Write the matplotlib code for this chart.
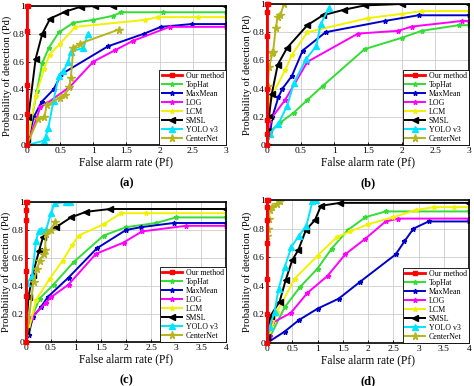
import matplotlib
matplotlib.use("Agg")
import matplotlib.pyplot as plt
import numpy as np

plt.rcParams['font.family'] = ['Liberation Serif', 'DejaVu Serif']

methods = ["Our method", "TopHat", "MaxMean", "LOG", "LCM", "SMSL", "YOLO v3", "CenterNet"]
colors = ["#ff0000", "#33dd33", "#0000cc", "#ff00ff", "#f2f200", "#000000", "#00e5ff", "#b5b51e"]
markers = ["s", "*", "*", "*", "*", "<", "^", "*"]
msizes = [3, 3.5, 3.5, 3.5, 3.5, 4, 4, 5.5]

# panel (a)
a_pf = [
    [0, 0, 0, 0, 0, 0.02],
    [0, 0.15, 0.23, 0.33, 0.48, 0.70, 1.0, 1.3, 1.42, 2.05, 3.0],
    [0, 0.10, 0.22, 0.40, 0.52, 1.22, 1.76, 2.02, 2.48, 3.0],
    [0, 0.20, 0.30, 0.65, 1.0, 1.32, 1.60, 2.15, 3.0],
    [0, 0.13, 0.26, 0.34, 0.50, 0.73, 1.78, 1.97, 2.58, 3.0],
    [0, 0.02, 0.13, 0.23, 0.35, 0.58, 0.81, 1.02, 1.30, 3.0],
    [0, 0.25, 0.28, 0.32, 0.40, 0.48, 0.55, 0.62, 0.66, 0.85, 0.92],
    [0, 0.17, 0.26, 0.30, 0.50, 0.57, 0.64, 0.66, 0.70, 0.80, 1.38],
]
a_pd = [
    [0, 0.22, 0.43, 0.82, 1.0, 1.0],
    [0, 0.39, 0.59, 0.70, 0.81, 0.88, 0.90, 0.93, 0.955, 0.955, 0.955],
    [0, 0.20, 0.31, 0.40, 0.51, 0.71, 0.80, 0.85, 0.87, 0.87],
    [0, 0.27, 0.30, 0.42, 0.60, 0.68, 0.75, 0.85, 0.85],
    [0, 0.35, 0.55, 0.65, 0.73, 0.85, 0.90, 0.92, 0.92, 0.92],
    [0.04, 0.20, 0.62, 0.80, 0.91, 0.96, 0.995, 1.0, 1.0, 1.0],
    [0, 0.03, 0.06, 0.12, 0.32, 0.50, 0.53, 0.60, 0.67, 0.70, 0.80],
    [0, 0.19, 0.20, 0.29, 0.34, 0.36, 0.42, 0.48, 0.70, 0.73, 0.83],
]

# panel (b)
b_pf = [
    [0, 0, 0, 0, 0, 0, 0, 0.02],
    [0, 0.05, 0.20, 0.40, 0.60, 0.83, 1.45, 2.0, 2.3, 2.85, 3.0],
    [0, 0.05, 0.08, 0.17, 0.23, 0.37, 0.53, 0.87, 1.75, 2.25, 3.0],
    [0, 0.05, 0.27, 0.60, 1.35, 1.95, 2.15, 2.9, 3.0],
    [0, 0.05, 0.27, 0.37, 0.60, 1.5, 2.0, 2.3, 3.0],
    [0, 0.03, 0.07, 0.16, 0.30, 0.60, 0.83, 1.15, 1.45, 2.0, 3.0],
    [0, 0.04, 0.17, 0.30, 0.40, 0.58, 0.73, 0.80, 0.92],
    [0, 0, 0.01, 0.03, 0.08, 0.09, 0.13, 0.16, 0.20, 0.25],
]
b_pd = [
    [0, 0.08, 0.18, 0.40, 0.77, 0.94, 1.0, 1.0],
    [0, 0.10, 0.16, 0.23, 0.32, 0.42, 0.68, 0.76, 0.81, 0.85, 0.85],
    [0, 0.10, 0.20, 0.34, 0.40, 0.49, 0.67, 0.80, 0.88, 0.92, 0.92],
    [0, 0.18, 0.32, 0.59, 0.79, 0.81, 0.84, 0.88, 0.88],
    [0, 0.33, 0.53, 0.64, 0.80, 0.90, 0.93, 0.95, 0.95],
    [0.10, 0.20, 0.36, 0.57, 0.69, 0.85, 0.92, 0.96, 0.99, 1.0, 1.0],
    [0, 0.08, 0.15, 0.28, 0.44, 0.61, 0.70, 0.86, 0.97],
    [0, 0.18, 0.42, 0.55, 0.65, 0.66, 0.83, 0.91, 0.92, 1.0],
]

# panel (c)
c_pf = [
    [0, 0, 0, 0, 0, 0, 0.02],
    [0, 0.12, 0.27, 0.55, 0.95, 1.55, 2.0, 2.6, 3.0, 4.0],
    [0, 0.05, 0.14, 0.30, 0.43, 0.85, 1.42, 2.0, 2.3, 2.95, 4.0],
    [0, 0.10, 0.40, 0.50, 0.85, 1.40, 1.95, 2.32, 3.2, 4.0],
    [0, 0.20, 0.47, 0.73, 0.92, 1.05, 1.55, 1.90, 2.4, 4.0],
    [0, 0.05, 0.13, 0.26, 0.34, 0.60, 0.90, 1.20, 1.68, 4.0],
    [0, 0.02, 0.12, 0.20, 0.25, 0.30, 0.40, 0.50, 0.57, 0.80, 0.88],
    [0, 0.15, 0.22, 0.27, 0.35, 0.38, 0.40, 0.50, 0.58],
]
c_pd = [
    [0, 0.33, 0.51, 0.87, 0.94, 1.0, 1.0],
    [0, 0.18, 0.31, 0.41, 0.57, 0.76, 0.82, 0.85, 0.89, 0.89],
    [0, 0.05, 0.18, 0.25, 0.32, 0.46, 0.67, 0.80, 0.82, 0.85, 0.85],
    [0, 0.17, 0.28, 0.32, 0.41, 0.63, 0.71, 0.79, 0.83, 0.83],
    [0, 0.30, 0.45, 0.58, 0.69, 0.76, 0.84, 0.92, 0.92, 0.92],
    [0.08, 0.32, 0.48, 0.65, 0.75, 0.82, 0.89, 0.93, 0.95, 0.95],
    [0.20, 0.42, 0.47, 0.72, 0.79, 0.80, 0.80, 0.92, 0.99, 1.0, 1.0],
    [0, 0.43, 0.52, 0.58, 0.63, 0.66, 0.77, 0.80, 0.86],
]

# panel (d)
d_pf = [
    [0, 0, 0, 0, 0, 0, 0, 0.02],
    [0, 0.35, 0.65, 1.0, 1.28, 1.60, 1.95, 2.35, 4.0],
    [0, 0.35, 0.63, 1.0, 1.42, 1.85, 2.55, 2.72, 2.9, 3.2, 4.0],
    [0, 0.05, 0.10, 0.47, 0.80, 1.20, 1.55, 1.95, 2.35, 2.6, 4.0],
    [0, 0.20, 0.55, 1.0, 1.38, 1.65, 2.0, 2.5, 2.95, 3.3, 3.7, 4.0],
    [0, 0.07, 0.25, 0.37, 0.50, 0.62, 0.77, 0.95, 1.07, 1.45, 4.0],
    [0, 0.05, 0.15, 0.23, 0.35, 0.48, 0.63, 0.78, 0.90, 0.98],
    [0, 0, 0.02, 0.03, 0.06, 0.10, 0.20, 0.25],
]
d_pd = [
    [0, 0.20, 0.45, 0.70, 0.86, 0.95, 1.0, 1.0],
    [0, 0.25, 0.39, 0.52, 0.66, 0.79, 0.88, 0.92, 0.92],
    [0, 0.08, 0.16, 0.24, 0.31, 0.43, 0.62, 0.71, 0.80, 0.85, 0.85],
    [0, 0.05, 0.14, 0.21, 0.35, 0.47, 0.62, 0.73, 0.85, 0.87, 0.87],
    [0, 0.22, 0.45, 0.61, 0.74, 0.78, 0.83, 0.88, 0.93, 0.95, 0.95, 0.95],
    [0.04, 0.19, 0.29, 0.44, 0.58, 0.65, 0.79, 0.86, 0.96, 0.98, 0.98],
    [0, 0.11, 0.22, 0.38, 0.53, 0.67, 0.75, 0.82, 0.99, 1.0],
    [0, 0.75, 0.80, 0.87, 0.93, 0.95, 0.97, 0.99],
]

panels = [
    ("(a)", a_pf, a_pd, 3, [27, 6, 226, 145]),
    ("(b)", b_pf, b_pd, 3, [267, 4, 469, 145]),
    ("(c)", c_pf, c_pd, 4, [26, 202, 226, 342]),
    ("(d)", d_pf, d_pd, 4, [267, 200, 469, 343]),
]

W, H = 474, 386
fig = plt.figure(figsize=(W / 100, H / 100), dpi=100)

for tag, pfs, pds, xmax, (l, t, r, b) in panels:
    ax = fig.add_axes([l / W, 1 - b / H, (r - l) / W, (b - t) / H])
    # "Our method" drawn last and over the spine, like the original
    order = list(range(1, 8)) + [0]
    handles = {}
    for i in order:
        extra = dict(zorder=3, clip_on=False, linewidth=2.0) if i == 0 else dict(linewidth=1.4)
        ln, = ax.plot(pfs[i], pds[i], color=colors[i], marker=markers[i],
                      markersize=msizes[i], label=methods[i], **extra)
        handles[i] = ln
    ax.set_xlim(0, xmax)
    ax.set_ylim(0, 1)
    xt = np.arange(0, xmax + 0.01, 0.5)
    ax.set_xticks(xt)
    ax.set_xticklabels(["%g" % v for v in xt])
    ax.set_yticks(np.arange(0, 1.01, 0.2))
    ax.set_yticklabels(["0", "0.2", "0.4", "0.6", "0.8", "1"])
    ax.tick_params(direction="in", labelsize=6.8, length=2, width=0.6, pad=1.5)
    ax.grid(True, color="#cccccc", linewidth=0.6)
    ax.set_axisbelow(True)
    for s in ax.spines.values():
        s.set_linewidth(1.2)
    ax.set_xlabel("False alarm rate (Pf)", fontsize=8.3, labelpad=1)
    ax.set_ylabel("Probability of detection (Pd)", fontsize=7.6, labelpad=1)
    leg = ax.legend([handles[i] for i in range(8)], methods, loc="lower right",
                    fontsize=5.7, borderaxespad=0, fancybox=False, framealpha=1,
                    edgecolor="black", handlelength=2.6, labelspacing=0.12,
                    borderpad=0.3, handletextpad=0.4)
    leg.get_frame().set_linewidth(0.6)
    cx = (l + r) / 2 / W
    fig.text(cx, 1 - (b + 38) / H, tag, ha="center", va="center",
             fontsize=9, fontweight="bold")

fig.savefig("out.png", dpi=100)
